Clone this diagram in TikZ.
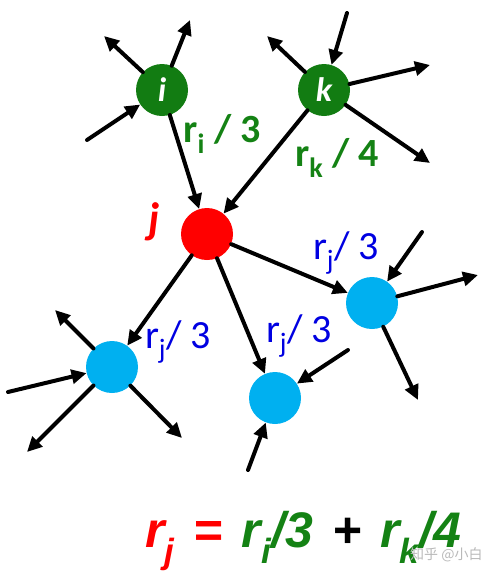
\documentclass[tikz,border=0pt]{standalone}
\usepackage{fontspec}
\setmainfont{Carlito}
\newfontfamily\formulafont{Liberation Sans}
\newfontfamily\cjkfont{Noto Sans CJK SC}
\usetikzlibrary{arrows.meta}
\definecolor{nodegreen}{RGB}{18,124,18}
\definecolor{textgreen}{RGB}{20,130,20}
\definecolor{nodered}{RGB}{255,0,0}
\definecolor{nodeblue}{RGB}{0,176,240}
\definecolor{textblue}{RGB}{0,0,225}
\tikzset{
  vertex/.style={
    circle, minimum size=52pt, inner sep=0pt, text=white,
    font=\fontsize{34}{34}\selectfont\bfseries\itshape
  },
  source/.style={vertex, fill=nodegreen},
  target/.style={vertex, fill=nodered},
  sink/.style={vertex, fill=nodeblue},
  share/.style={font=\fontsize{40}{40}\selectfont\bfseries, text=textgreen, inner sep=0pt},
  split/.style={font=\fontsize{40}{40}\selectfont, text=textblue, inner sep=0pt},
  link/.style={
    -{Triangle[length=15pt,width=14pt]}, line width=4pt, line cap=round, color=black
  }
}

\begin{document}
\begin{tikzpicture}[x=1pt, y=-1pt]
\useasboundingbox (0,0) rectangle (496,576);

\node[source] (i) at (162,90) {i};
\node[source] (k) at (324,90) {k};
\node[target] (j) at (207,234) {};
\node[sink] (br) at (372,303) {};
\node[sink] (bl) at (112,367) {};
\node[sink] (bm) at (275,398) {};

\node[font=\fontsize{44}{44}\selectfont\bfseries\itshape, text=nodered] (jname) at (154,222) {j};
\node[share] (ri) at (222,134) {r\textsubscript{i} / 3};
\node[share] (rk) at (337,158) {r\textsubscript{k} / 4};
\node[split] (rjr) at (346,253) {r\textsubscript{j}/ 3};
\node[split] (rjl) at (178,342) {r\textsubscript{j}/ 3};
\node[split] (rjm) at (299,336) {r\textsubscript{j}/ 3};

\coordinate (i nw) at (104,36);
\coordinate (i n) at (190,20);
\coordinate (i sw) at (87,140);
\coordinate (k n) at (347,13);
\coordinate (k nw) at (267,36);
\coordinate (k e) at (430,65);
\coordinate (k se) at (430,163);
\coordinate (br ne) at (422,232);
\coordinate (br e) at (478,275);
\coordinate (br s) at (418,400);
\coordinate (bl nw) at (55,310);
\coordinate (bl w) at (8,392);
\coordinate (bl sw) at (27,452);
\coordinate (bl se) at (182,438);
\coordinate (bm ne) at (348,350);
\coordinate (bm s) at (248,470);

\draw[link] (i) -- (j);
\draw[link] (k) -- (j);
\draw[link] (j) -- (br);
\draw[link] (j) -- (bl);
\draw[link] (j) -- (bm);

\draw[link] (i) -- (i nw);
\draw[link] (i) -- (i n);
\draw[link] (i sw) -- (i);
\draw[link] (k n) -- (k);
\draw[link] (k) -- (k nw);
\draw[link] (k) -- (k e);
\draw[link] (k) -- (k se);
\draw[link] (br ne) -- (br);
\draw[link] (br) -- (br e);
\draw[link] (br) -- (br s);
\draw[link] (bl) -- (bl nw);
\draw[link] (bl w) -- (bl);
\draw[link] (bl) -- (bl sw);
\draw[link] (bl) -- (bl se);
\draw[link] (bm ne) -- (bm);
\draw[link] (bm s) -- (bm);

\node[anchor=base west, inner sep=0pt, font=\formulafont\fontsize{50}{50}\selectfont\bfseries\itshape] (rule) at (145,547)
  {\textcolor{nodered}{r\textsubscript{j}\hspace{0.1em} =}\hspace{0.1em} \textcolor{textgreen}{r\textsubscript{i}/3}\hspace{0.1em} +\hspace{0.1em} \textcolor{textgreen}{r\textsubscript{k}/4}};
\node[font=\cjkfont\fontsize{14}{14}\selectfont, text=gray!55, anchor=base west, inner sep=0pt] (mark) at (410,559) {知乎 @小白};
\end{tikzpicture}
\end{document}
